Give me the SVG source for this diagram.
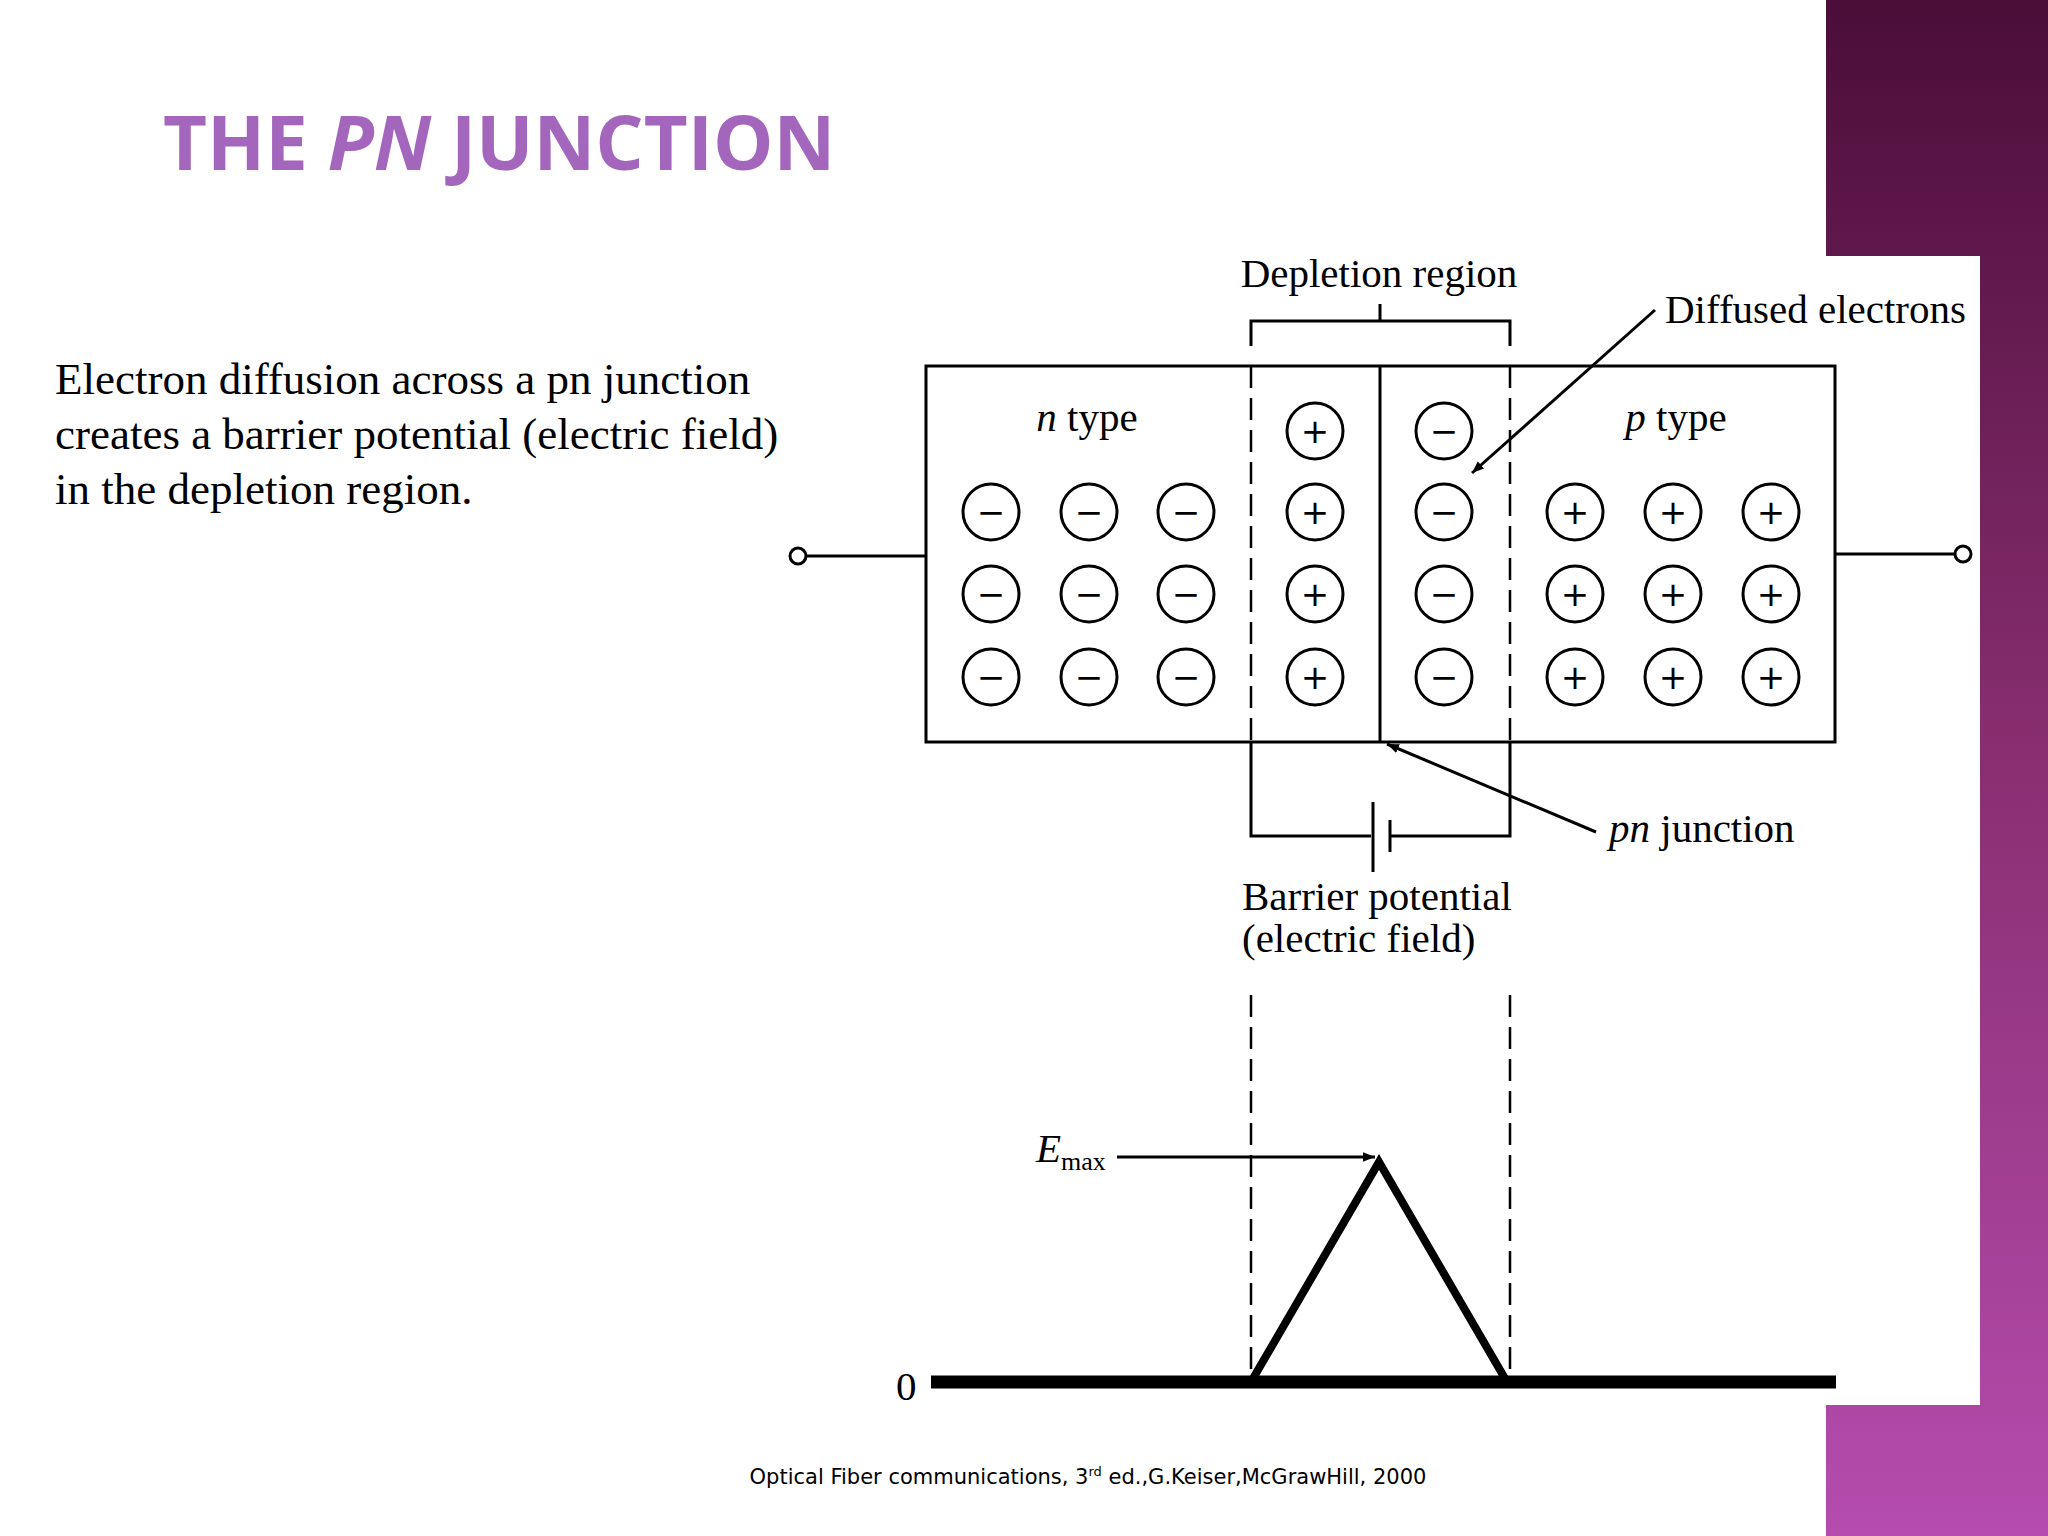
<svg xmlns="http://www.w3.org/2000/svg" width="2048" height="1536" viewBox="0 0 2048 1536">
<defs>
<linearGradient id="bar" x1="0" y1="0" x2="0" y2="1"><stop offset="0" stop-color="#4a0d38"/><stop offset="0.5" stop-color="#8a2f72"/><stop offset="1" stop-color="#b54cae"/></linearGradient>
<marker id="ah" viewBox="0 0 10 10" refX="10" refY="5" markerWidth="12" markerHeight="12" orient="auto" markerUnits="userSpaceOnUse"><path d="M0,1 L10,5 L0,9 Z" fill="#000"/></marker>
</defs>
<style>
.s{stroke:#000;fill:none;stroke-width:3}
.d{stroke:#000;fill:none;stroke-width:2.5;stroke-dasharray:22,10}
.c{stroke:#000;fill:#fff;stroke-width:3}
.t{font-family:"Liberation Serif",serif;font-size:41px;fill:#000}
.sym{font-family:"DejaVu Sans",sans-serif;font-size:34px;fill:#000;text-anchor:middle}
</style>
<rect width="2048" height="1536" fill="#fff"/>
<rect x="1826" y="0" width="222" height="1536" fill="url(#bar)"/>
<rect x="1826" y="256" width="154" height="1149" fill="#fff"/>
<text x="163" y="170" font-family="Open Sans,sans-serif" font-weight="bold" font-size="76" fill="#a466bd">THE <tspan font-style="italic">PN</tspan> JUNCTION</text>
<g font-family="Liberation Serif,serif" font-size="45" fill="#000">
<text x="55" y="394">Electron diffusion across a pn junction</text>
<text x="55" y="449">creates a barrier potential (electric field)</text>
<text x="55" y="504">in the depletion region.</text>
</g>
<g id="box">
<rect x="926" y="366" width="909" height="376" class="s" stroke-width="4"/>
<line x1="1251" y1="366" x2="1251" y2="742" class="d"/>
<line x1="1510" y1="366" x2="1510" y2="742" class="d"/>
<line x1="1380" y1="366" x2="1380" y2="742" class="s"/>
<text x="1087" y="431" class="t" text-anchor="middle"><tspan font-style="italic">n</tspan> type</text>
<text x="1676" y="431" class="t" text-anchor="middle"><tspan font-style="italic">p</tspan> type</text>
</g>
<g id="charges">
<g class="c">
<circle cx="991" cy="512" r="28"/><circle cx="1089" cy="512" r="28"/><circle cx="1186" cy="512" r="28"/>
<circle cx="991" cy="594" r="28"/><circle cx="1089" cy="594" r="28"/><circle cx="1186" cy="594" r="28"/>
<circle cx="991" cy="677" r="28"/><circle cx="1089" cy="677" r="28"/><circle cx="1186" cy="677" r="28"/>
<circle cx="1315" cy="431" r="28"/><circle cx="1315" cy="512" r="28"/><circle cx="1315" cy="594" r="28"/><circle cx="1315" cy="677" r="28"/>
<circle cx="1444" cy="431" r="28"/><circle cx="1444" cy="512" r="28"/><circle cx="1444" cy="594" r="28"/><circle cx="1444" cy="677" r="28"/>
<circle cx="1575" cy="512" r="28"/><circle cx="1673" cy="512" r="28"/><circle cx="1771" cy="512" r="28"/>
<circle cx="1575" cy="594" r="28"/><circle cx="1673" cy="594" r="28"/><circle cx="1771" cy="594" r="28"/>
<circle cx="1575" cy="677" r="28"/><circle cx="1673" cy="677" r="28"/><circle cx="1771" cy="677" r="28"/>
</g>
<g class="sym">
<text x="991" y="524">−</text><text x="1089" y="524">−</text><text x="1186" y="524">−</text>
<text x="991" y="606">−</text><text x="1089" y="606">−</text><text x="1186" y="606">−</text>
<text x="991" y="689">−</text><text x="1089" y="689">−</text><text x="1186" y="689">−</text>
<text x="1315" y="443">+</text><text x="1315" y="524">+</text><text x="1315" y="606">+</text><text x="1315" y="689">+</text>
<text x="1444" y="443">−</text><text x="1444" y="524">−</text><text x="1444" y="606">−</text><text x="1444" y="689">−</text>
<text x="1575" y="524">+</text><text x="1673" y="524">+</text><text x="1771" y="524">+</text>
<text x="1575" y="606">+</text><text x="1673" y="606">+</text><text x="1771" y="606">+</text>
<text x="1575" y="689">+</text><text x="1673" y="689">+</text><text x="1771" y="689">+</text>
</g>
</g>
<g id="terminals">
<line x1="806" y1="556" x2="926" y2="556" class="s"/><circle cx="798" cy="556" r="8" class="c"/>
<line x1="1835" y1="554" x2="1955" y2="554" class="s"/><circle cx="1963" cy="554" r="8" class="c"/>
</g>
<g id="depletion-label">
<path d="M1251,346 V321 H1510 V346 M1380,321 V304" class="s"/>
<text x="1379" y="287" class="t" text-anchor="middle">Depletion region</text>
</g>
<g id="connectors">
<line x1="1655" y1="310" x2="1472" y2="473" class="s" stroke-width="2" marker-end="url(#ah)"/>
<line x1="1596" y1="832" x2="1387" y2="744" class="s" stroke-width="2" marker-end="url(#ah)"/>
<line x1="1117" y1="1157" x2="1375" y2="1157" class="s" stroke-width="2" marker-end="url(#ah)"/>
</g>
<text x="1665" y="323" class="t">Diffused electrons</text>
<text x="1609" y="842" class="t"><tspan font-style="italic">pn</tspan> junction</text>
<g id="battery">
<path d="M1251,742 V836 H1371 M1390,836 H1510 V742" class="s"/>
<line x1="1373" y1="802" x2="1373" y2="872" class="s" stroke-width="5"/>
<line x1="1390" y1="820" x2="1390" y2="852" class="s" stroke-width="5"/>
<text x="1242" y="910" class="t">Barrier potential</text>
<text x="1242" y="952" class="t">(electric field)</text>
</g>
<g id="field">
<line x1="1251" y1="995" x2="1251" y2="1375" class="d"/>
<line x1="1510" y1="995" x2="1510" y2="1375" class="d"/>
<line x1="931" y1="1382" x2="1836" y2="1382" stroke="#000" stroke-width="13"/>
<polyline points="1251,1382 1379,1162 1507,1382" fill="none" stroke="#000" stroke-width="8"/>
<text x="896" y="1400" class="t">0</text>
<text x="1036" y="1162" class="t" font-style="italic">E<tspan font-style="normal" font-size="26" dy="8">max</tspan></text>
</g>
<text x="1088" y="1484" font-family="DejaVu Sans,sans-serif" font-size="21" text-anchor="middle" fill="#000">Optical Fiber communications, 3<tspan font-size="13" dy="-8">rd</tspan><tspan dy="8"> ed.,G.Keiser,McGrawHill, 2000</tspan></text>
</svg>
